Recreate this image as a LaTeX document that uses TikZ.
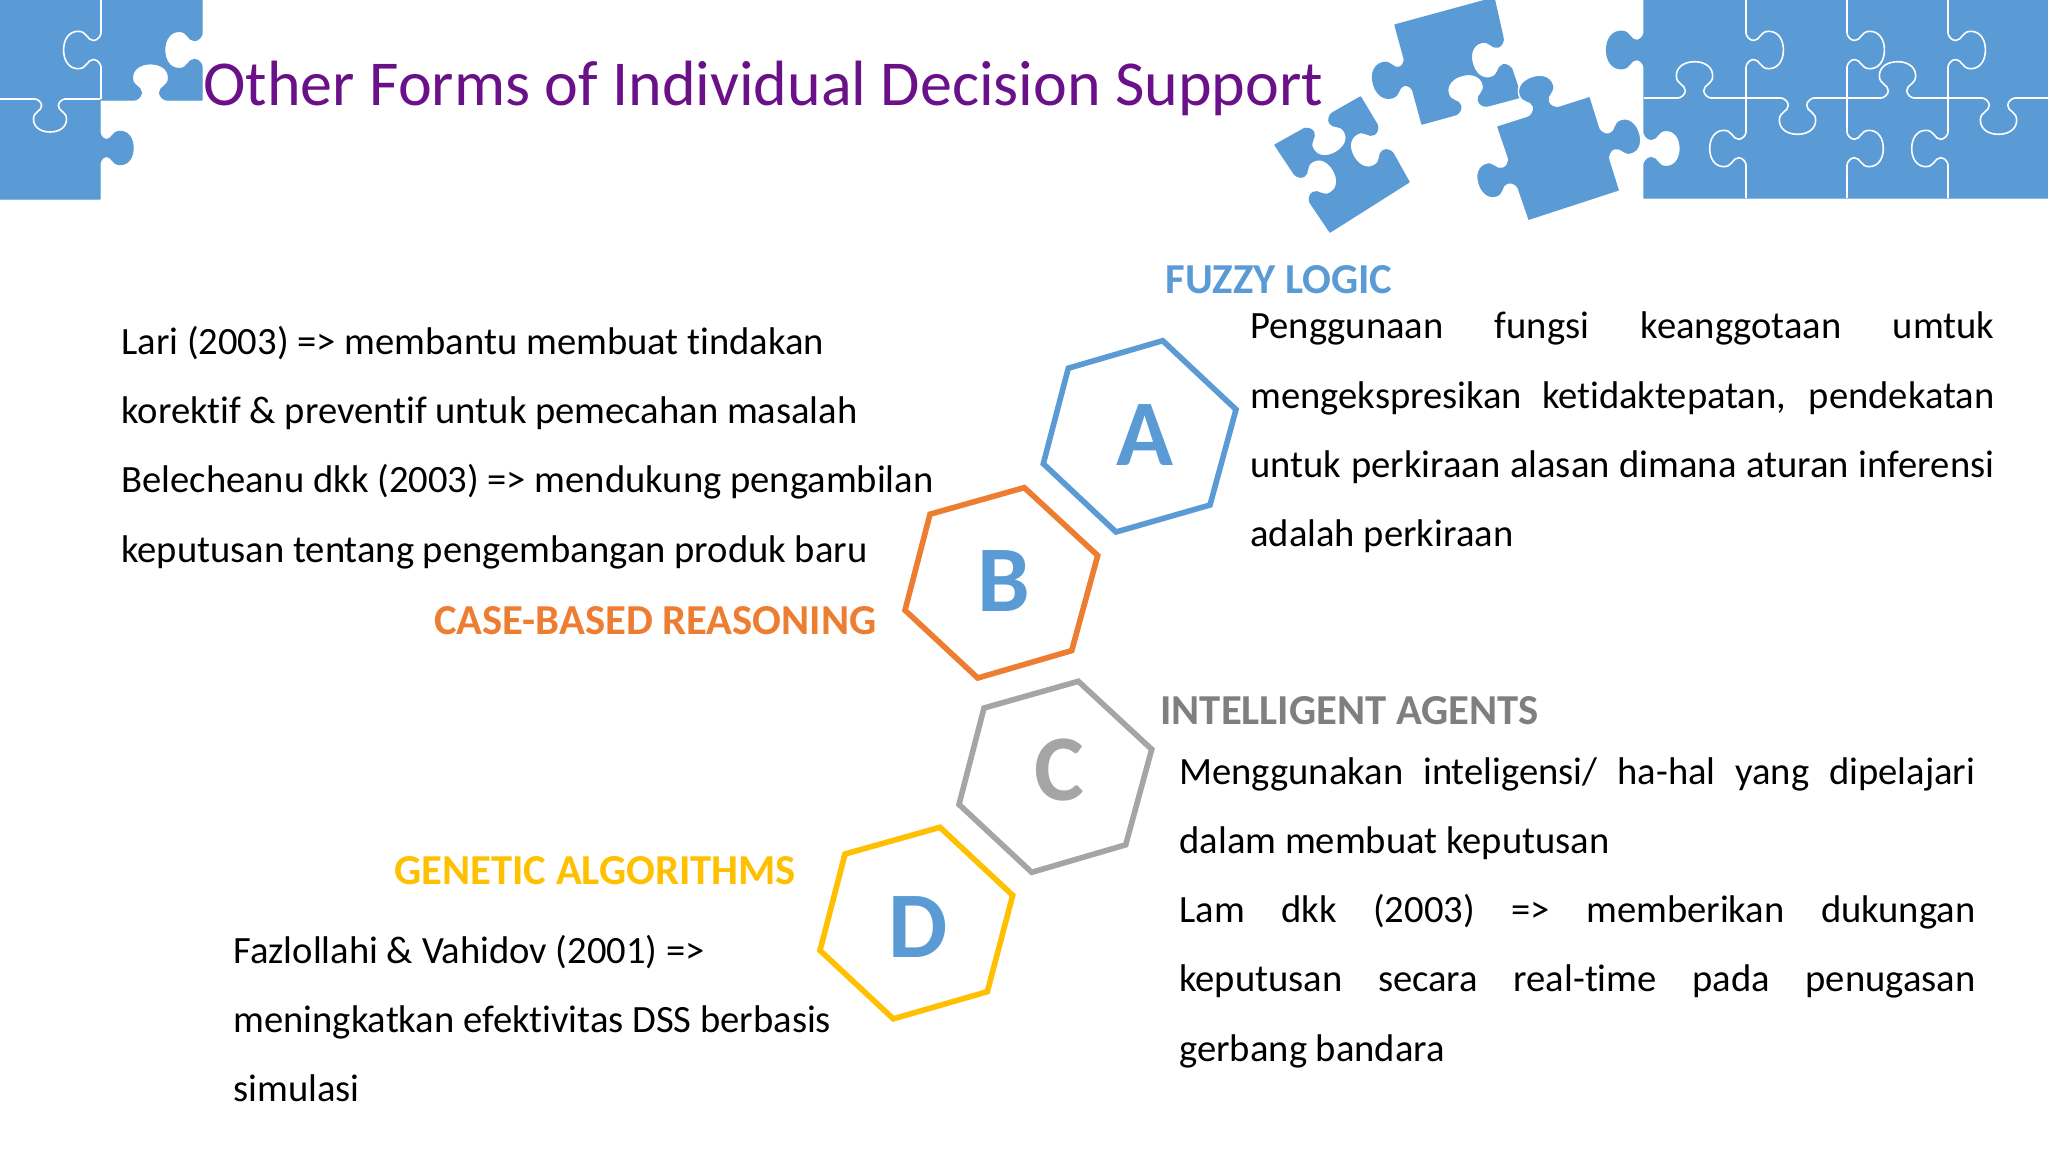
\documentclass[tikz,border=0pt]{standalone}
\usepackage{fontspec}
\setmainfont{Carlito}[Ligatures=NoCommon]
\definecolor{pz}{HTML}{5B9BD5}
\definecolor{ttl}{HTML}{6A1189}
\definecolor{org}{HTML}{ED7D31}
\definecolor{gry}{HTML}{A5A5A5}
\definecolor{dgr}{HTML}{7F7F7F}
\definecolor{ylw}{HTML}{FFC000}
\newcommand\PP[7]{(\fpeval{round((#1)+(#6)*((#3)-(#1))-(#7)*(#5)*((#4)-(#2)),2)},\fpeval{round((#2)+(#6)*((#4)-(#2))+(#7)*(#5)*((#3)-(#1)),2)})}
\newcommand\nubb[1]{ -- #1{0}{0} .. controls #1{.08}{0} and #1{.22}{.1} .. #1{.22}{.22}
 .. controls #1{.22}{.42} and #1{-.05}{.4} .. #1{-.05}{.67}
 .. controls #1{-.05}{.95} and #1{.2}{1.1} .. #1{.5}{1.1}
 .. controls #1{.8}{1.1} and #1{1.05}{.95} .. #1{1.05}{.67}
 .. controls #1{1.05}{.4} and #1{.78}{.42} .. #1{.78}{.22}
 .. controls #1{.78}{.1} and #1{.92}{0} .. #1{1}{0} }
\newcommand\nub[5]{\nubb{\PP{#1}{#2}{#3}{#4}{#5}}}
% left group
\xdef\pathL{(0,0) -- (202,0) \nub{202}{33}{202}{67}{1} -- (202,100)
  \nub{167}{100}{134}{100}{1} -- (100,100) \nub{100}{133}{100}{163}{-1} -- (100,199) -- (0,199) -- cycle}
\xdef\lineLa{(101,0) \nub{101}{33}{101}{67}{1} -- (101,99)}
\xdef\lineLb{(0,99) \nub{35}{99}{65}{99}{1} -- (100,99)}
% right grid
\xdef\pathG{(1644,0) -- (2060,0) -- (2060,198) -- (1644,198) \nub{1644}{165}{1644}{132}{1} -- (1644,98)
  \nub{1644}{67}{1644}{33}{-1} -- cycle}
\xdef\lineGa{(1746,0) \nub{1746}{33}{1746}{67}{-1} -- (1746,98) \nub{1746}{132}{1746}{165}{1} -- (1746,198)}
\xdef\lineGb{(1847,0) \nub{1847}{33}{1847}{67}{-1} -- (1847,98) \nub{1847}{132}{1847}{165}{-1} -- (1847,198)}
\xdef\lineGc{(1948,0) \nub{1948}{33}{1948}{67}{-1} -- (1948,98) \nub{1948}{132}{1948}{165}{1} -- (1948,198)}
\xdef\lineGd{(1644,98) \nub{1678}{98}{1711}{98}{-1} \nub{1781}{98}{1814}{98}{1} \nub{1881}{98}{1914}{98}{-1} \nub{1982}{98}{2015}{98}{1} -- (2060,98)}
% floating pieces
\xdef\pathA{(1395,25) -- (1494,-2) \nub{1503}{38}{1512}{70}{1} -- (1521,97)
  \nub{1487.4}{106}{1455.6}{114.7}{1} -- (1422,124) \nub{1412.8}{90.4}{1404.2}{58.6}{-1} -- cycle}
\xdef\pathB{(1275,145) \nub{1303.6}{129}{1332.4}{113}{1} -- (1360.5,97) \nub{1377}{124.6}{1393}{153.4}{1} -- (1409,182)
  -- (1330,232) \nub{1310}{202.4}{1294}{173.6}{1} -- cycle}
\xdef\pathC{(1496,126) \nub{1527.3}{116}{1558.7}{106}{-1} -- (1590,96) \nub{1600}{127.8}{1610}{159.2}{-1} -- (1620,191)
  -- (1528,221) \nub{1517}{189}{1507}{158}{-1} -- cycle}
\tikzset{
  piece/.style={fill=pz,draw=pz,line width=.7pt,line join=round},
  seam/.style={draw=white,line width=.8pt},
  hexa/.style={line width=2.8pt,fill=none},
  letter/.style={font=\fontsize{47}{47}\selectfont\bfseries,inner sep=0pt,anchor=center},
  lbl/.style={font=\fontsize{21.33}{25}\selectfont\bfseries,inner sep=0pt,anchor=base west},
  body/.style={font=\fontsize{19.3}{34.6}\selectfont,inner sep=0pt,anchor=north west,align=flush left},
}
\newcommand\jl[2]{\makebox[#1pt][s]{#2}}
\begin{document}
\begin{tikzpicture}[x=.5pt,y=-.5pt]
\useasboundingbox (0,0) rectangle (2048,1152);
\fill[white] (0,0) rectangle (2048,1152);
\begin{scope}
\clip (0,0) rectangle (2048,1152);
\path[piece] \pathL;
\draw[seam] \lineLa;
\draw[seam] \lineLb;
\path[piece] \pathG;
\draw[seam] \lineGa;
\draw[seam] \lineGb;
\draw[seam] \lineGc;
\draw[seam] \lineGd;
\path[piece] \pathA;
\path[piece] \pathB;
\path[piece,draw=white] \pathC;
\end{scope}
\node[font=\fontsize{32}{38}\selectfont,text=ttl,inner sep=0pt,anchor=base west] (title) at (203,105) {Other Forms of Individual Decision Support};
\draw[hexa,draw=pz] (1162.7,340.7) -- (1236,409.5) -- (1210,505) -- (1116,532) -- (1043.3,463.7) -- (1068.3,368.2) -- cycle;
\draw[hexa,draw=org] (1024.3,487.6) -- (1097.7,555.5) -- (1071.7,650.6) -- (977.7,678) -- (905,610.2) -- (930,514.2) -- cycle;
\draw[hexa,draw=gry] (1078.3,681.3) -- (1151.7,749.3) -- (1125.7,844.8) -- (1031.7,872.3) -- (959,804.4) -- (984,708) -- cycle;
\draw[hexa,draw=ylw] (940,827.3) -- (1012.7,895.3) -- (987.3,991.7) -- (893.3,1018.8) -- (820,950.4) -- (845,854) -- cycle;
\node[letter,text=pz] (la) at (1145,435) {A};
\node[letter,text=pz] (lb) at (1004,581) {B};
\node[letter,text=gry] (lc) at (1059,770) {C};
\node[letter,text=pz] (ld) at (918,927) {D};
\node[lbl,text=pz] (fz) at (1165,293) {FUZZY LOGIC};
\node[lbl,text=org] (cb) at (433.6,634) {CASE-BASED REASONING};
\node[lbl,text=dgr] (ia) at (1160,724) {INTELLIGENT AGENTS};
\node[lbl,text=ylw] (ga) at (394,884) {GENETIC ALGORITHMS};
\node[body,text width=420pt] (tb) at (121,305.6) {\strut Lari (2003) => membantu membuat tindakan\\
korektif \& preventif untuk pemecahan masalah\\
Belecheanu dkk (2003) => mendukung pengambilan\\
keputusan tentang pengembangan produk baru};
\node[body,text width=372pt] (ta) at (1250,290) {\strut\jl{372}{Penggunaan fungsi keanggotaan umtuk}\\
\jl{372}{mengekspresikan ketidaktepatan, pendekatan}\\
\jl{372}{untuk perkiraan alasan dimana aturan inferensi}\\
adalah perkiraan};
\node[body,text width=398pt] (tc) at (1179,735.4) {\strut\jl{398}{Menggunakan inteligensi/ ha-hal yang dipelajari}\\
dalam membuat keputusan\\
\jl{398}{Lam dkk (2003) => memberikan dukungan}\\
\jl{398}{keputusan secara real-time pada penugasan}\\
gerbang bandara};
\node[body,text width=320pt] (td) at (233,914.4) {\strut Fazlollahi \& Vahidov (2001) =>\\
meningkatkan efektivitas DSS berbasis\\
simulasi};
\end{tikzpicture}
\end{document}
